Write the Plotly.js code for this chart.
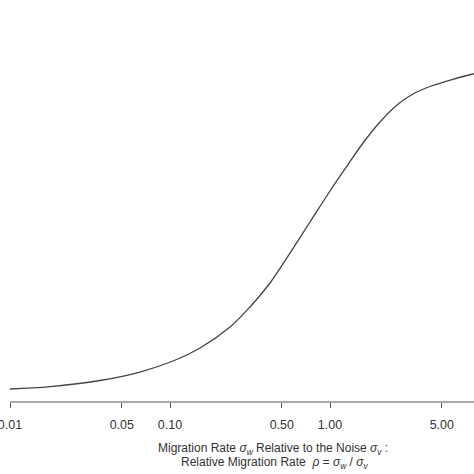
<!DOCTYPE html>
<html>
<head>
<meta charset="utf-8">
<script src="https://cdn.plot.ly/plotly-3.0.1.min.js"></script>
<style>
  html, body { margin:0; padding:0; background:#fff; }
  #chart { width:474px; height:474px; }
</style>
</head>
<body>
<div id="chart"></div>
<script>
// ---- data ----
const rho = [0.01, 0.0178, 0.0365, 0.0649, 0.1044, 0.154, 0.2371, 0.3162, 0.4217,
             0.5623, 0.7499, 1.0, 1.277, 1.608, 2.054, 2.623, 3.302, 4.217, 5.788, 7.83, 10];
const response = [0.0323, 0.0381, 0.0535, 0.0746, 0.102, 0.1343, 0.1866, 0.2363, 0.296,
                  0.3706, 0.4478, 0.5249, 0.587, 0.6443, 0.6965, 0.7388, 0.7662, 0.7848,
                  0.8022, 0.8159, 0.823];
const tickVals = [0.01, 0.05, 0.10, 0.50, 1.00, 5.00];
const tickText = ['0.01', '0.05', '0.10', '0.50', '1.00', '5.00'];
const axisEnd = 10;

const FONT = 'Liberation Sans, Arial, sans-serif';
const INK = '#333';

Plotly.newPlot('chart', [{
  type: 'scatter',
  mode: 'lines',
  x: rho,
  y: response,
  line: { color: '#444', width: 1.3, shape: 'spline', smoothing: 1 },
  hoverinfo: 'skip'
}], {
  width: 474,
  height: 474,
  margin: { l: 0, r: 0, t: 0, b: 72 },
  paper_bgcolor: '#fff',
  plot_bgcolor: '#fff',
  showlegend: false,
  font: { family: FONT, size: 12, color: INK },
  xaxis: {
    type: 'log',
    range: [-2.0625, 0.9],
    tickvals: tickVals,
    ticktext: tickText,
    ticks: 'outside',
    ticklen: 5,
    tickwidth: 1,
    tickcolor: '#555',
    ticklabelstandoff: 6,
    ticklabeloverflow: 'allow',
    showgrid: false,
    zeroline: false,
    showline: false,
    tickfont: { family: FONT, size: 12.5, color: INK }
  },
  yaxis: {
    range: [0, 1],
    visible: false,
    showgrid: false,
    zeroline: false
  },
  shapes: [{
    type: 'line', xref: 'x', yref: 'paper',
    x0: tickVals[0], x1: axisEnd, y0: 0, y1: 0,
    line: { color: '#555', width: 1 }
  }],
  annotations: [{
    xref: 'paper', yref: 'paper',
    x: 0.576, y: -0.117, xanchor: 'center', yanchor: 'middle',
    showarrow: false,
    align: 'center',
    font: { family: FONT, size: 12, color: INK },
    text: 'Migration Rate <i>σ</i><sub><i>w</i></sub> Relative to the Noise <i>σ</i><sub><i>v</i></sub> :'
  }, {
    xref: 'paper', yref: 'paper',
    x: 0.58, y: -0.151, xanchor: 'center', yanchor: 'middle',
    showarrow: false,
    align: 'center',
    font: { family: FONT, size: 12, color: INK },
    text: 'Relative Migration Rate  <i>ρ</i> = <i>σ</i><sub><i>w</i></sub> / <i>σ</i><sub><i>v</i></sub>'
  }]
}, { staticPlot: true, displayModeBar: false });
</script>
</body>
</html>
